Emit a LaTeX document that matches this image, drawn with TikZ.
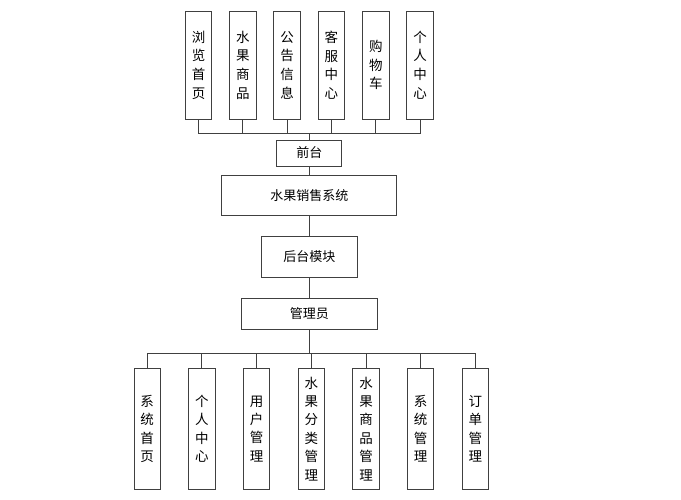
\documentclass[tikz,border=0pt]{standalone}
\usepackage{fontspec}
\setmainfont{Noto Sans CJK SC}
\usetikzlibrary{positioning}
\tikzset{
  box/.style={rectangle,draw=black!75,line width=0.9pt,align=center,inner sep=2pt,font=\fontsize{13}{18.3}\selectfont},
  tallbox/.style={box,minimum width=26.5pt,minimum height=108pt,font=\fontsize{13.5}{18.6}\selectfont},
  lowbox/.style={box,minimum width=26.3pt,minimum height=121pt,font=\fontsize{13.5}{18.4}\selectfont},
  line/.style={draw=black!75,line width=0.9pt}
}

\begin{document}
\begin{tikzpicture}[x=1pt,y=1pt,node distance=16.9pt and 16.9pt]
\useasboundingbox (0,0) rectangle (681,-500);
\node[box, minimum width=65pt, minimum height=26pt] (front) at (309.3,-153) {前台};
\node[box, below=8.1pt of front, minimum width=175pt, minimum height=40.3pt] (sys) {水果销售系统};
\node[box, below=20.5pt of sys, minimum width=96.6pt, minimum height=40.6pt] (back) {后台模块};
\node[box, below=20.1pt of back, minimum width=136pt, minimum height=30.7pt] (admin) {管理员};
% front row
\node[tallbox, above=20.1pt of front, xshift=-22.15pt] (tc) {公\\告\\信\\息};
\node[tallbox, left=of tc] (tb) {水\\果\\商\\品};
\node[tallbox, left=of tb] (ta) {浏\\览\\首\\页};
\node[tallbox, right=of tc] (td) {客\\服\\中\\心};
\node[tallbox, right=of td] (te) {购\\物\\车};
\node[tallbox, right=of te] (tf) {个\\人\\中\\心};
% admin row
\node[lowbox, below=38.4pt of admin, xshift=2pt] (bd) {水\\果\\分\\类\\管\\理};
\node[lowbox, left=27.5pt of bd] (bc) {用\\户\\管\\理};
\node[lowbox, left=27.5pt of bc] (bb) {个\\人\\中\\心};
\node[lowbox, left=27.5pt of bb] (ba) {系\\统\\首\\页};
\node[lowbox, right=27.5pt of bd] (be) {水\\果\\商\\品\\管\\理};
\node[lowbox, right=27.5pt of be] (bf) {系\\统\\管\\理};
\node[lowbox, right=27.5pt of bf] (bg) {订\\单\\管\\理};
\draw[line] (ta.south) -- ++(0,-13.7) -| (front.north);
\draw[line] (tb.south) -- ++(0,-13.7) -| (front.north);
\draw[line] (tc.south) -- ++(0,-13.7) -| (front.north);
\draw[line] (td.south) -- ++(0,-13.7) -| (front.north);
\draw[line] (te.south) -- ++(0,-13.7) -| (front.north);
\draw[line] (tf.south) -- ++(0,-13.7) -| (front.north);
\draw[line] (front) -- (sys);
\draw[line] (sys) -- (back);
\draw[line] (back) -- (admin);
\draw[line] (admin.south) -- ++(0,-23.7) -| (ba.north);
\draw[line] (admin.south) -- ++(0,-23.7) -| (bb.north);
\draw[line] (admin.south) -- ++(0,-23.7) -| (bc.north);
\draw[line] (admin.south) -- ++(0,-23.7) -| (bd.north);
\draw[line] (admin.south) -- ++(0,-23.7) -| (be.north);
\draw[line] (admin.south) -- ++(0,-23.7) -| (bf.north);
\draw[line] (admin.south) -- ++(0,-23.7) -| (bg.north);
\end{tikzpicture}
\end{document}
